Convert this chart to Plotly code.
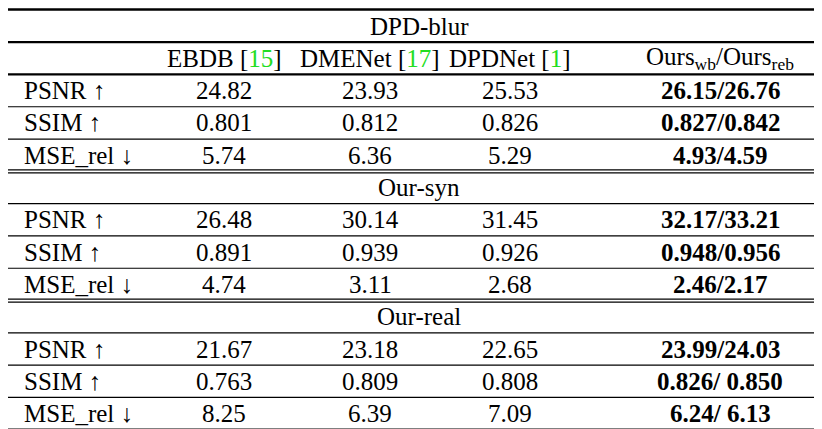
import plotly.graph_objects as go

# table contents
sections = ["DPD-blur", "Our-syn", "Our-real"]
methods = ["EBDB", "DMENet", "DPDNet"]
method_refs = ["15", "17", "1"]
metrics = ["PSNR ↑", "SSIM ↑", "MSE_rel ↓"]

ebdb = [["24.82", "0.801", "5.74"], ["26.48", "0.891", "4.74"], ["21.67", "0.763", "8.25"]]
dmenet = [["23.93", "0.812", "6.36"], ["30.14", "0.939", "3.11"], ["23.18", "0.809", "6.39"]]
dpdnet = [["25.53", "0.826", "5.29"], ["31.45", "0.926", "2.68"], ["22.65", "0.808", "7.09"]]
ours = [["26.15/26.76", "0.827/0.842", "4.93/4.59"],
        ["32.17/33.21", "0.948/0.956", "2.46/2.17"],
        ["23.99/24.03", "0.826/ 0.850", "6.24/ 6.13"]]

W, H = 822, 429
col_x = [216, 362, 502, 712]
label_x = 14
pitch = 32.3
font = dict(family="Liberation Serif, Times New Roman, DejaVu Serif, serif", size=25, color="black")
green = "#22dd22"

fig = go.Figure()
ann = []
shapes = []


def hline(y, w=1):
    shapes.append(dict(type="line", xref="x", yref="y", x0=0, x1=W, y0=y, y1=y,
                       line=dict(color="black", width=w)))


def row_y(i):
    return 18 + pitch * i


hline(1.5, 2.5)
r = 0
for s, sec in enumerate(sections):
    ann.append(dict(x=W / 2, y=row_y(r), text=sec, xanchor="center"))
    if s == 0:
        hline(row_y(r) + pitch / 2, 2.2)
        r += 1
        for c, (m, ref) in enumerate(zip(methods, method_refs)):
            ann.append(dict(x=col_x[c], y=row_y(r), xanchor="center",
                            text=f"{m} [<span style='color:{green}'>{ref}</span>]"))
        ann.append(dict(x=col_x[3], y=row_y(r), xanchor="center",
                        text="Ours<sub>wb</sub>/Ours<sub>reb</sub>"))
        hline(row_y(r) + pitch / 2, 2.2)
    else:
        hline(row_y(r) + pitch / 2, 1.2)
    r += 1
    for k, met in enumerate(metrics):
        y = row_y(r)
        ann.append(dict(x=label_x, y=y, text=met, xanchor="left"))
        vals = [ebdb[s][k], dmenet[s][k], dpdnet[s][k]]
        for c, v in enumerate(vals):
            ann.append(dict(x=col_x[c], y=y, text=v, xanchor="center"))
        ann.append(dict(x=col_x[3], y=y, text=f"<b>{ours[s][k]}</b>", xanchor="center"))
        if k < len(metrics) - 1:
            hline(y + pitch / 2, 1.2)
        r += 1
    yb = row_y(r - 1) + pitch / 2
    if s < len(sections) - 1:
        hline(yb - 1.5, 1.2)
        hline(yb + 1.5, 1.2)
    else:
        hline(yb, 2.5)

for a in ann:
    a.update(xref="x", yref="y", yanchor="middle", showarrow=False, font=font)

fig.update_layout(
    width=W, height=H, margin=dict(l=0, r=0, t=0, b=0),
    paper_bgcolor="white", plot_bgcolor="white",
    xaxis=dict(range=[0, W], visible=False, fixedrange=True),
    yaxis=dict(range=[H, 0], visible=False, fixedrange=True),
    annotations=ann, shapes=shapes, showlegend=False,
)
fig.write_html("out.html")
